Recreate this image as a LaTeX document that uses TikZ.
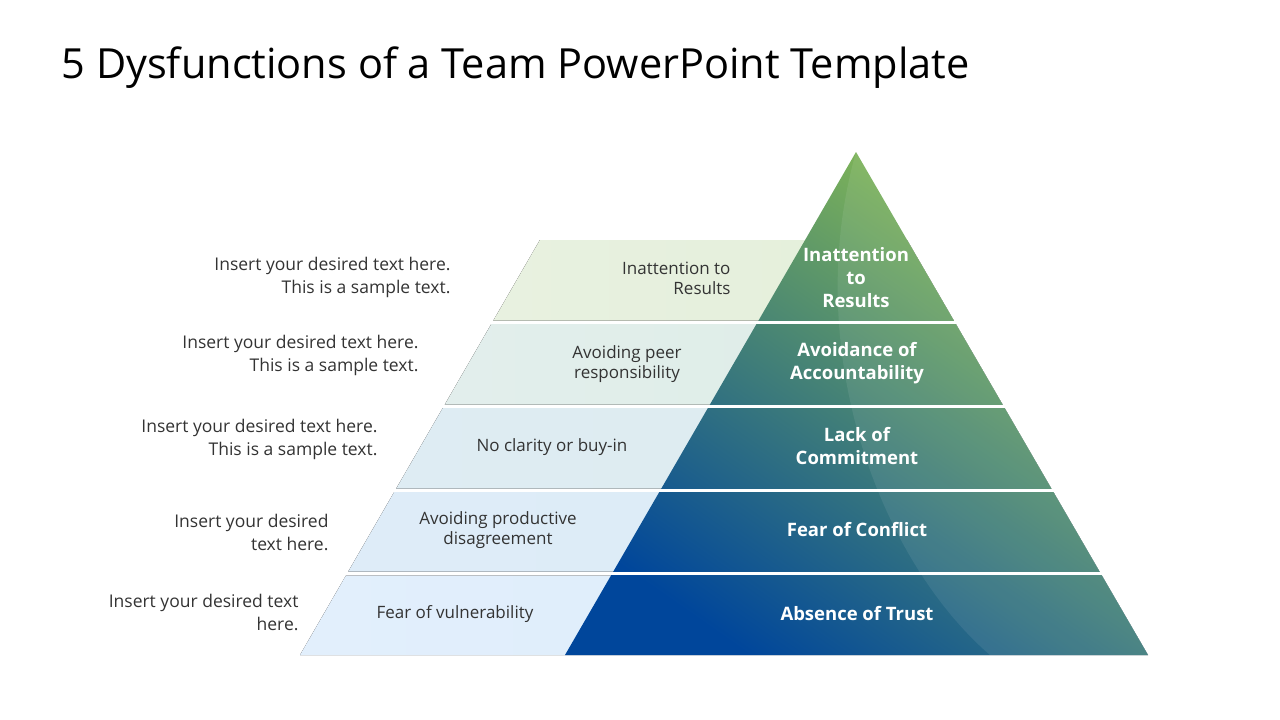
\documentclass[tikz,border=0pt]{standalone}
\usepackage{fontspec}
\setmainfont{Open Sans}
\begin{document}
\begin{tikzpicture}[x=1pt,y=-1pt,
  side/.style={align=right,anchor=east,text=black!80,font=\fontsize{17.5}{23}\selectfont},
  mid/.style={align=center,text=black!80,font=\fontsize{17}{20}\selectfont},
  lab/.style={align=center,text=white,font=\bfseries\fontsize{18.5}{23}\selectfont}]
\useasboundingbox (0,0) rectangle (1280,720);
\definecolor{dk}{RGB}{0,70,155}
\definecolor{gr}{RGB}{140,192,80}
\definecolor{b1a}{RGB}{232,241,224}\definecolor{b1b}{RGB}{228,239,218}
\definecolor{b2a}{RGB}{226,238,236}\definecolor{b2b}{RGB}{222,237,230}
\definecolor{b3a}{RGB}{222,236,243}\definecolor{b3b}{RGB}{222,237,238}
\definecolor{b4a}{RGB}{222,236,248}\definecolor{b4b}{RGB}{220,236,246}
\definecolor{b5a}{RGB}{226,239,252}\definecolor{b5b}{RGB}{220,235,250}
\def\band#1#2#3#4{\fill[left color=#3,right color=#4] ({300+(655-#1)*0.578},#1) -- ({856+(#1-152)*0.5805},#1) -- ({856+(#2-152)*0.5805},#2) -- ({300+(655-#2)*0.578},#2) -- cycle;}
\band{240}{320.5}{b1a}{b1b}
\band{323.5}{404.5}{b2a}{b2b}
\band{407.5}{488.5}{b3a}{b3b}
\band{491.5}{571.5}{b4a}{b4b}
\band{575.5}{655}{b5a}{b5b}
% dark triangle
\shade[left color=gr,right color=dk,shading angle=-35] (856,152) -- (1148,655) -- (565,655) -- cycle;
\fill[white,opacity=0.08] (856,152) .. controls (800,350) and (880,560) .. (990,655) -- (1148,655) -- cycle;
% gaps
\foreach \y in {322,406,490,573.5} \draw[white,line width=3pt] (280,\y) -- (1170,\y);
% labels
\node[lab] (l1) at (856,278) {Inattention\\to\\Results};
\node[lab] (l2) at (857,363) {Avoidance of\\Accountability};
\node[lab] (l3) at (857,446) {Lack of\\Commitment};
\node[lab] (l4) at (857,530) {Fear of Conflict};
\node[lab] (l5) at (857,614) {Absence of Trust};
\node[mid,align=right,anchor=east] (m1) at (734,278) {Inattention to\\Results};
\node[mid] (m2) at (627,364) {Avoiding peer\\responsibility};
\node[mid] (m3) at (552,447) {No clarity or buy-in};
\node[mid] (m4) at (498,530) {Avoiding productive\\disagreement};
\node[mid] (m5) at (455,614) {Fear of vulnerability};
\node[side] (s1) at (454,277) {Insert your desired text here.\\This is a sample text.};
\node[side] (s2) at (422,355) {Insert your desired text here.\\This is a sample text.};
\node[side] (s3) at (381,439) {Insert your desired text here.\\This is a sample text.};
\node[side] (s4) at (332,532) {Insert your desired\\text here.};
\node[side] (s5) at (302,612) {Insert your desired text\\here.};
\node[anchor=west,font=\fontsize{41.5}{48}\selectfont] (t) at (58,68) {5 Dysfunctions of a Team PowerPoint Template};
\end{tikzpicture}
\end{document}
